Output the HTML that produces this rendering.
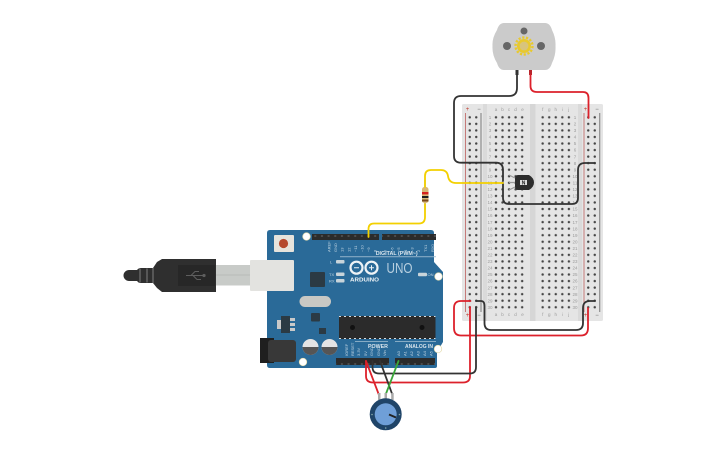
<!DOCTYPE html>
<html><head><meta charset="utf-8"><style>
html,body{margin:0;padding:0;background:#fff;width:725px;height:453px;overflow:hidden}
svg{display:block}
text{font-family:"Liberation Sans",sans-serif}
.w{fill:none;stroke-width:1.8;stroke-linecap:round;stroke-linejoin:round}
.n{font-size:4.5px;fill:#9a9a9a;text-anchor:middle}
.p{font-size:4px;fill:#c3d6e3;text-anchor:start}
.l{font-size:5.5px;font-weight:bold;fill:#d8e4ec}
</style></head><body>
<svg width="725" height="453" viewBox="0 0 725 453" xmlns="http://www.w3.org/2000/svg">
<defs>
<pattern id="h" x="492.7" y="114" width="6.55" height="6.55" patternUnits="userSpaceOnUse"><circle cx="3.27" cy="3.27" r="1.2" fill="#454545"/></pattern>
<pattern id="h2" x="539.4" y="114" width="6.55" height="6.55" patternUnits="userSpaceOnUse"><circle cx="3.27" cy="3.27" r="1.2" fill="#454545"/></pattern>
<pattern id="h3" x="466.5" y="114" width="6.5" height="6.55" patternUnits="userSpaceOnUse"><circle cx="3.25" cy="3.27" r="1.2" fill="#454545"/></pattern>
<pattern id="h4" x="585" y="114" width="6.5" height="6.55" patternUnits="userSpaceOnUse"><circle cx="3.25" cy="3.27" r="1.2" fill="#454545"/></pattern>
<pattern id="pin" x="312" y="0" width="6.65" height="8" patternUnits="userSpaceOnUse"><rect x="0" y="0" width="6.65" height="8" fill="#2b2b2b"/><rect x="2.3" y="3" width="2" height="2" fill="#4c4c4c"/></pattern>
</defs>

<!-- breadboard -->
<rect x="462" y="104" width="141" height="217" rx="1.5" fill="#e5e5e5"/>
<rect x="483" y="104" width="4" height="217" fill="#dadada"/>
<rect x="578" y="104" width="4" height="217" fill="#dadada"/>
<rect x="530" y="104" width="5.5" height="217" fill="#d6d6d6"/>
<line x1="465.5" y1="113" x2="465.5" y2="312" stroke="#c57a79" stroke-width="1"/>
<line x1="481" y1="113" x2="481" y2="312" stroke="#8e8e8e" stroke-width="1.2"/>
<line x1="584" y1="113" x2="584" y2="312" stroke="#c57a79" stroke-width="1"/>
<line x1="599.7" y1="113" x2="599.7" y2="312" stroke="#8e8e8e" stroke-width="1.2"/>
<rect x="492.7" y="114" width="32.75" height="196.5" fill="url(#h)"/>
<rect x="539.4" y="114" width="32.75" height="196.5" fill="url(#h2)"/>
<rect x="466.5" y="114" width="13" height="196.5" fill="url(#h3)"/>
<rect x="585" y="114" width="13" height="196.5" fill="url(#h4)"/>
<g font-size="6" text-anchor="middle">
<text x="467.5" y="111" fill="#c0392b">+</text><text x="479" y="111" fill="#666">−</text>
<text x="585.5" y="111" fill="#c0392b">+</text><text x="597" y="111" fill="#666">−</text>
<text x="467.5" y="317" fill="#c0392b">+</text><text x="479" y="317" fill="#666">−</text>
<text x="585.5" y="317" fill="#c0392b">+</text><text x="597" y="317" fill="#666">−</text>
</g>
<g class="n">
<text x="496" y="111">a</text><text x="502.5" y="111">b</text><text x="509" y="111">c</text><text x="515.5" y="111">d</text><text x="522.5" y="111">e</text>
<text x="542.7" y="111">f</text><text x="549.2" y="111">g</text><text x="555.7" y="111">h</text><text x="562.2" y="111">i</text><text x="568.7" y="111">j</text>
<text x="496" y="316">a</text><text x="502.5" y="316">b</text><text x="509" y="316">c</text><text x="515.5" y="316">d</text><text x="522.5" y="316">e</text>
<text x="542.7" y="316">f</text><text x="549.2" y="316">g</text><text x="555.7" y="316">h</text><text x="562.2" y="316">i</text><text x="568.7" y="316">j</text>
<text x="490" y="119">1</text><text x="490" y="125.5">2</text><text x="490" y="132">3</text><text x="490" y="138.6">4</text><text x="490" y="145.2">5</text><text x="490" y="151.7">6</text><text x="490" y="158.3">7</text><text x="490" y="164.8">8</text><text x="490" y="171.4">9</text><text x="490" y="178">10</text>
<text x="490" y="184.5">11</text><text x="490" y="191">12</text><text x="490" y="197.6">13</text><text x="490" y="204.1">14</text><text x="490" y="210.7">15</text><text x="490" y="217.2">16</text><text x="490" y="223.8">17</text><text x="490" y="230.3">18</text><text x="490" y="236.9">19</text><text x="490" y="243.4">20</text>
<text x="490" y="250">21</text><text x="490" y="256.5">22</text><text x="490" y="263.1">23</text><text x="490" y="269.6">24</text><text x="490" y="276.2">25</text><text x="490" y="282.7">26</text><text x="490" y="289.3">27</text><text x="490" y="295.8">28</text><text x="490" y="302.4">29</text><text x="490" y="309">30</text>
<text x="575" y="119">1</text><text x="575" y="125.5">2</text><text x="575" y="132">3</text><text x="575" y="138.6">4</text><text x="575" y="145.2">5</text><text x="575" y="151.7">6</text><text x="575" y="158.3">7</text><text x="575" y="164.8">8</text><text x="575" y="171.4">9</text><text x="575" y="178">10</text>
<text x="575" y="184.5">11</text><text x="575" y="191">12</text><text x="575" y="197.6">13</text><text x="575" y="204.1">14</text><text x="575" y="210.7">15</text><text x="575" y="217.2">16</text><text x="575" y="223.8">17</text><text x="575" y="230.3">18</text><text x="575" y="236.9">19</text><text x="575" y="243.4">20</text>
<text x="575" y="250">21</text><text x="575" y="256.5">22</text><text x="575" y="263.1">23</text><text x="575" y="269.6">24</text><text x="575" y="276.2">25</text><text x="575" y="282.7">26</text><text x="575" y="289.3">27</text><text x="575" y="295.8">28</text><text x="575" y="302.4">29</text><text x="575" y="309">30</text>
</g>

<!-- motor -->
<path d="M504 23 H545 Q550 23 552 30 Q556 38 555.5 46 Q556 55 552 63 Q550 70 545 70 H504 Q499 70 497 63 Q492 55 492.5 46 Q492 38 497 30 Q499 23 504 23 Z" fill="#cbcbcb"/>
<circle cx="524" cy="31" r="3.5" fill="#666"/>
<circle cx="507" cy="46" r="4" fill="#666"/>
<circle cx="541" cy="46" r="4" fill="#666"/>
<circle cx="524" cy="46" r="7" fill="#e8c92e"/>
<circle cx="524" cy="46" r="8.5" fill="none" stroke="#e8c92e" stroke-width="2.4" stroke-dasharray="2.2 1.6"/>
<circle cx="524" cy="46" r="4.4" fill="#d8c47c"/>
<rect x="515.5" y="70" width="3" height="5" fill="#333"/>
<rect x="529" y="70" width="3" height="5" fill="#b8242b"/>

<!-- usb -->
<rect x="216" y="265" width="34" height="20.5" fill="#c8cbc8"/>
<rect x="216" y="274.5" width="34" height="1" fill="#b8bbb8"/>
<path d="M129 270 H137 Q138 268.5 140 268 H153 L157 262 L162 259 H216 V292 H162 L157 288 L153 283 H140 Q138 282.5 137 281 H129 A5.5 5.5 0 0 1 129 270 Z" fill="#2f2f2f"/>
<rect x="178" y="265" width="37" height="21" fill="#272727"/>
<path d="M186 275.5 H205 M191 275.5 L195 271.5 H199 M193 275.5 L197 279.5 H201" stroke="#5e5e5e" stroke-width="1" fill="none"/>
<circle cx="204" cy="275.5" r="1.6" fill="#5e5e5e"/>
<rect x="139" y="268.5" width="2" height="14" fill="#575757"/><rect x="146" y="268.5" width="2" height="14" fill="#575757"/><rect x="152" y="268" width="2" height="15" fill="#575757"/>

<!-- arduino -->
<path d="M270 230 H431 Q434 230 434 233 V262 L443 272 V342 L437 352 V366 Q437 368 435 368 H270 Q267 368 267 365 V233 Q267 230 270 230 Z" fill="#2a6a98"/>
<rect x="250" y="260" width="44" height="31" rx="1" fill="#e3e3e0"/>
<rect x="274" y="235" width="20" height="17" rx="1" fill="#e6e3dc"/>
<circle cx="283.5" cy="243.5" r="4.6" fill="#b5492d"/>
<rect x="312" y="234" width="67" height="6" fill="url(#pin)"/>
<rect x="382" y="234" width="54" height="6" fill="url(#pin)"/>
<rect x="336" y="358" width="53" height="7" fill="url(#pin)"/>
<rect x="395" y="358" width="40" height="7" fill="url(#pin)"/>
<circle cx="306.5" cy="236.5" r="3.8" fill="#fff" stroke="#e2d9a8" stroke-width=".7"/>
<circle cx="438.5" cy="276.5" r="3.8" fill="#fff" stroke="#e2d9a8" stroke-width=".7"/>
<circle cx="438" cy="349" r="3.8" fill="#fff" stroke="#e2d9a8" stroke-width=".7"/>
<circle cx="303" cy="362" r="3.8" fill="#fff" stroke="#e2d9a8" stroke-width=".7"/>
<rect x="310" y="272" width="15" height="15" rx="1" fill="#2b3a44"/>
<rect x="311" y="313" width="9" height="8.5" rx="1" fill="#2b3a44"/>
<rect x="299.5" y="296" width="31.5" height="11" rx="5.5" fill="#c8c8c4"/>
<rect x="281" y="316" width="9" height="17" fill="#2b3a44"/><rect x="290" y="318" width="5" height="3" fill="#c9c9c9"/><rect x="290" y="323" width="5" height="3" fill="#c9c9c9"/><rect x="290" y="328" width="5" height="3" fill="#c9c9c9"/><rect x="277" y="320" width="4" height="9" fill="#c9c9c9"/>
<rect x="319" y="328" width="7" height="6" fill="#2b3a44"/>
<rect x="339" y="316" width="96.5" height="23" fill="#2b2b2b"/>
<line x1="339" y1="316.5" x2="435.5" y2="316.5" stroke="#ddd" stroke-width="1" stroke-dasharray="2 3"/>
<line x1="339" y1="338.5" x2="435.5" y2="338.5" stroke="#ddd" stroke-width="1" stroke-dasharray="2 3"/>
<circle cx="352.5" cy="327.5" r="2.5" fill="#111"/><circle cx="422" cy="327.5" r="2.5" fill="#111"/>
<rect x="260" y="338" width="14" height="25" fill="#1f1f1f"/><rect x="268" y="340" width="28" height="22" rx="3" fill="#383838"/>
<circle cx="310.5" cy="347" r="8" fill="#e4e4e4"/><path d="M302.5 347 A8 8 0 0 0 318.5 347 Z" fill="#555"/>
<circle cx="329.5" cy="347" r="8" fill="#e4e4e4"/><path d="M321.5 347 A8 8 0 0 0 337.5 347 Z" fill="#555"/>
<rect x="340" y="256.3" width="96" height=".9" fill="#9dbbd0"/>
<rect x="355" y="341" width="33" height=".8" fill="#9dbbd0"/><rect x="395" y="341" width="41" height=".8" fill="#9dbbd0"/>
<text x="375.7" y="255" class="l" textLength="42" lengthAdjust="spacingAndGlyphs">DIGITAL (PWM~)</text>
<text x="368" y="348" class="l" textLength="20" lengthAdjust="spacingAndGlyphs">POWER</text>
<text x="405" y="348" class="l" textLength="28" lengthAdjust="spacingAndGlyphs">ANALOG IN</text>
<text x="386.5" y="273" font-size="15" fill="#b8d0e0" textLength="26" lengthAdjust="spacingAndGlyphs">UNO</text>
<text x="350" y="281.5" font-size="5.5" font-weight="bold" fill="#eef3f6" textLength="29" lengthAdjust="spacingAndGlyphs">ARDUINO</text>
<circle cx="356.5" cy="267.7" r="6" fill="none" stroke="#eef3f6" stroke-width="2.2"/>
<circle cx="371.5" cy="267.7" r="6" fill="none" stroke="#eef3f6" stroke-width="2.2"/>
<path d="M354 267.7 H359 M369 267.7 H374 M371.5 265.2 V270.2" stroke="#eef3f6" stroke-width="1"/>
<text transform="translate(330.5,252) rotate(-90)" class="p">AREF</text>
<text transform="translate(337,252) rotate(-90)" class="p">GND</text>
<text transform="translate(343.7,252) rotate(-90)" class="p">13</text>
<text transform="translate(350.3,252) rotate(-90)" class="p">12</text>
<text transform="translate(357,252) rotate(-90)" class="p">~11</text>
<text transform="translate(363.5,252) rotate(-90)" class="p">~10</text>
<text transform="translate(370,252) rotate(-90)" class="p">~9</text>
<text transform="translate(376.7,252) rotate(-90)" class="p">8</text>
<text transform="translate(387,252) rotate(-90)" class="p">7</text>
<text transform="translate(393.6,252) rotate(-90)" class="p">~6</text>
<text transform="translate(400,252) rotate(-90)" class="p">~5</text>
<text transform="translate(407,252) rotate(-90)" class="p">4</text>
<text transform="translate(413.5,252) rotate(-90)" class="p">~3</text>
<text transform="translate(420,252) rotate(-90)" class="p">2</text>
<text transform="translate(427,252) rotate(-90)" class="p">TX1</text>
<text transform="translate(434,252) rotate(-90)" class="p">RX0</text>
<text transform="translate(348,356) rotate(-90)" class="p">IOREF</text>
<text transform="translate(354,356) rotate(-90)" class="p">RESET</text>
<text transform="translate(360,356) rotate(-90)" class="p">3.3V</text>
<text transform="translate(367,356) rotate(-90)" class="p">5V</text>
<text transform="translate(373,356) rotate(-90)" class="p">GND</text>
<text transform="translate(380,356) rotate(-90)" class="p">GND</text>
<text transform="translate(386,356) rotate(-90)" class="p">Vin</text>
<text transform="translate(400,356) rotate(-90)" class="p">A0</text>
<text transform="translate(406.5,356) rotate(-90)" class="p">A1</text>
<text transform="translate(413,356) rotate(-90)" class="p">A2</text>
<text transform="translate(419.5,356) rotate(-90)" class="p">A3</text>
<text transform="translate(426,356) rotate(-90)" class="p">A4</text>
<text transform="translate(432.5,356) rotate(-90)" class="p">A5</text>
<text x="330" y="263.5" class="p">L</text><text x="329" y="276" class="p">TX</text><text x="329" y="282.5" class="p">RX</text>
<rect x="336" y="260" width="8.5" height="3.5" rx="1" fill="#c8d4da"/>
<rect x="336" y="272.5" width="8.5" height="3.5" rx="1" fill="#c8d4da"/>
<rect x="336" y="279" width="8.5" height="3.5" rx="1" fill="#c8d4da"/>
<rect x="418" y="272.7" width="9" height="3.5" rx="1" fill="#c8d4da"/>
<text x="427.5" y="276" class="p">ON</text>

<!-- transistor -->
<path d="M515 178 Q515 175 518 175 H529 Q534 178 534 182.5 Q534 187 529 190 H518 Q515 190 515 187 Z" fill="#2d2d2d"/>
<rect x="520" y="180" width="7" height="5" fill="#dcdcdc"/>
<text x="523.5" y="184.6" font-size="5" font-weight="bold" text-anchor="middle" fill="#222">N</text>
<path d="M515 178 L509 175 M515 182.5 H509 M515 187 L509 190" stroke="#999" stroke-width="1.2"/>

<!-- resistor -->
<line x1="425" y1="180" x2="425" y2="210" stroke="#9a9a9a" stroke-width="1.5"/>
<rect x="422" y="187" width="6.5" height="16" rx="2.5" fill="#d9b877"/>
<rect x="422" y="192" width="6.5" height="2.4" fill="#d5211f"/>
<rect x="422" y="196" width="6.5" height="2" fill="#1d1d1d"/>
<rect x="422" y="199.5" width="6.5" height="2" fill="#7a4a1e"/>

<!-- wires -->
<path class="w" stroke="#333" d="M517 75 V88 Q517 96 509 96 H461 Q454 96 454 103 V156 Q454 162.7 461 162.7 H496 Q503 162.7 503 170 V181"/>
<path class="w" stroke="#333" d="M503 184 V198 Q503 204 509 204 H572 Q578 204 578 198 V170 Q578 163 585 163 H595"/>
<path class="w" stroke="#dc212b" d="M530.5 75 V86 Q530.5 92 537 92 H583 Q588.5 92 588.5 98 V118"/>
<path class="w" stroke="#f3d000" d="M368.5 237 V229 Q368.5 223.5 374 223.5 H419 Q425 223.5 425 217 V204 M425 187 V176 Q425 170 431 170 H441 Q447 170 448 176 Q449 183 456 183 H503"/>
<path class="w" stroke="#dc212b" d="M470.5 301 H461 Q454 301 454 308 V328 Q454 335.5 461 335.5 H581 Q588 335.5 588 328 V308"/>
<path class="w" stroke="#333" d="M476 301 H481 Q484.5 301 484.5 306 V323 Q484.5 330 491 330 H576 Q583 330 583 323 V308 Q583 301 590 301 H595"/>
<path class="w" stroke="#dc212b" d="M470 307 V376 Q470 382.5 463 382.5 H373 Q366 382.5 366 376 V361"/>
<path class="w" stroke="#333" d="M476 307 V367 Q476 373.5 470 373.5 H379 Q372.5 373.5 372.5 367 V361"/>
<line class="w" stroke="#dc212b" x1="366" y1="361" x2="379" y2="395"/>
<line class="w" stroke="#333" x1="380" y1="361" x2="392.5" y2="395"/>
<line class="w" stroke="#3aa63a" x1="398.5" y1="361" x2="385.5" y2="395"/>

<!-- pot -->
<rect x="378" y="393" width="2.5" height="7" fill="#aaa"/><rect x="384.5" y="393" width="2.5" height="7" fill="#aaa"/><rect x="391.2" y="393" width="2.5" height="7" fill="#aaa"/>
<circle cx="385.7" cy="414.3" r="16" fill="#1f4468"/>
<circle cx="385.7" cy="414.3" r="11" fill="#6f9fd8"/>
<line x1="389" y1="414.5" x2="396" y2="417.5" stroke="#222" stroke-width="2"/>
<circle cx="372" cy="414.5" r=".8" fill="#8aa"/><circle cx="399.5" cy="414.5" r=".8" fill="#8aa"/><circle cx="385.7" cy="428" r=".8" fill="#8aa"/>
</svg>
</body></html>
